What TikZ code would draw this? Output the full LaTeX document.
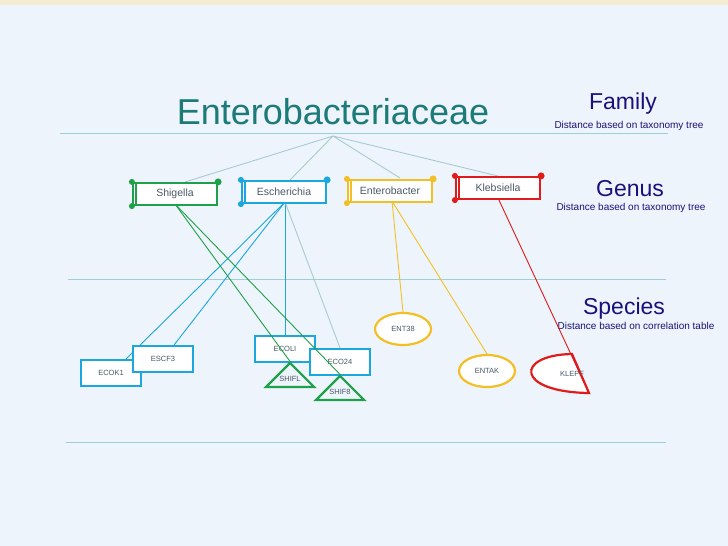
\documentclass[tikz,border=0pt]{standalone}
\usepackage{fontspec}
\setmainfont{Liberation Sans}
\usetikzlibrary{shapes.geometric}
\definecolor{bg}{HTML}{EEF4FB}
\definecolor{strip}{HTML}{F3EBD3}
\definecolor{rule}{HTML}{9FCFD6}
\definecolor{gr}{HTML}{1FA04A}
\definecolor{bl}{HTML}{1AA7DD}
\definecolor{ye}{HTML}{F2C024}
\definecolor{rd}{HTML}{E01B1B}
\definecolor{navy}{HTML}{17127A}
\definecolor{tealt}{HTML}{1C7B78}
\definecolor{conn}{HTML}{A8CBD3}
\definecolor{txt}{HTML}{4A5A66}
\begin{document}
\begin{tikzpicture}[x=1pt,y=-1pt,
  genus/.style={draw=#1,line width=2.2pt,fill=white,minimum width=84pt,minimum height=22pt,font=\fontsize{10.5}{11}\selectfont,text=txt,inner sep=0pt},
  sp/.style={draw=bl,line width=2.2pt,fill=white,minimum width=60pt,minimum height=26pt,font=\fontsize{7.5}{8}\selectfont,text=txt,inner sep=0pt},
  tri/.style={draw=gr,line width=2.2pt,isosceles triangle,isosceles triangle apex angle=90,shape border rotate=90,minimum height=24pt,inner sep=0pt},
  lab/.style={font=\fontsize{7.5}{8}\selectfont,text=txt},
  ell/.style={draw=ye,line width=2.2pt,ellipse,fill=white,minimum width=56pt,minimum height=32pt,inner sep=0pt,font=\fontsize{7.5}{8}\selectfont,text=txt},
  hl/.style={draw=rule,line width=0.7pt},
  head/.style={text=navy,font=\fontsize{23}{25}\selectfont},
  sub/.style={text=navy,font=\fontsize{10}{11}\selectfont},
  cn/.style={line width=0.9pt}]
\fill[bg] (0,0) rectangle (728,546);
\fill[strip] (0,0) rectangle (728,5);
\draw[hl] (60,133) -- (668,133);
\draw[hl] (68,279) -- (666,279);
\draw[hl] (66,442) -- (666,442);
\node[text=tealt,font=\fontsize{36}{40}\selectfont] (title) at (333,112) {Enterobacteriaceae};
\coordinate (root) at (333,136);
\node[head] (fam) at (623,104) {Family};
\node[sub] (famd) at (629,126) {Distance based on taxonomy tree};
\node[head] (gen) at (630,189) {Genus};
\node[sub] (gend) at (631,208) {Distance based on taxonomy tree};
\node[head] (spe) at (624,309) {Species};
\node[sub] (sped) at (636,326) {Distance based on correlation table};
\coordinate (shb) at (175,204);
\coordinate (esb) at (285,202);
\coordinate (enb) at (392,201);
\coordinate (klb) at (498,198);
\draw[cn,conn] (root) -- (185,182) (root) -- (290,180) (root) -- (400,178) (root) -- (498,176);
\node[sp] (ecok) at (111,373) {ECOK1};
\node[sp] (escf) at (163,359) {ESCF3};
\node[sp] (ecoli) at (285,349) {ECOLI};
\node[sp] (eco24) at (340,362) {ECO24};
\draw[cn,bl] (esb) -- ([xshift=-16pt]ecok.north east);
\draw[cn,bl] (esb) -- ([xshift=-20pt]escf.north east);
\draw[cn,bl] (esb) -- (ecoli.north);
\draw[cn,conn] (esb) -- (eco24.north);
\node[sp] at (111,373) {ECOK1};
\node[sp] at (163,359) {ESCF3};
\node[tri] (shifl) at (290,377) {};
\node[lab] at (290,379) {SHIFL};
\node[tri] (shif8) at (340,390) {};
\node[lab] at (340,392) {SHIF8};
\draw[cn,gr] (shb) -- (shifl.apex);
\draw[cn,gr] (shb) -- (shif8.apex);
\node[ell] (ent38) at (403,329) {ENT38};
\node[ell] (entak) at (487,371) {ENTAK};
\draw[cn,ye] (enb) -- (ent38.north);
\draw[cn,ye] (enb) -- (entak.north);
\coordinate (klr) at (589,393);
\draw[line width=2.2pt,rd,fill=white] (572,354) .. controls (515,355) and (515,392) .. (klr) -- cycle;
\node[lab] (klepf) at (572,374) {KLEPF};
\draw[cn,rd] (klb) -- (klr);
\foreach \n/\c/\x/\y/\t in {shig/gr/175/194/Shigella,esch/bl/284/192/Escherichia,entb/ye/390/191/Enterobacter,kleb/rd/498/188/Klebsiella}{
  \node[genus=\c] (\n) at (\x,\y) {\t};
  \draw[\c,line width=2pt] ([xshift=4pt]\n.north west) -- ([xshift=4pt]\n.south west);
  \fill[\c] (\n.north east) circle (3.5pt);
  \fill[\c] (\n.north west) circle (3pt);
  \fill[\c] (\n.south west) circle (3pt);
}
\end{tikzpicture}
\end{document}
